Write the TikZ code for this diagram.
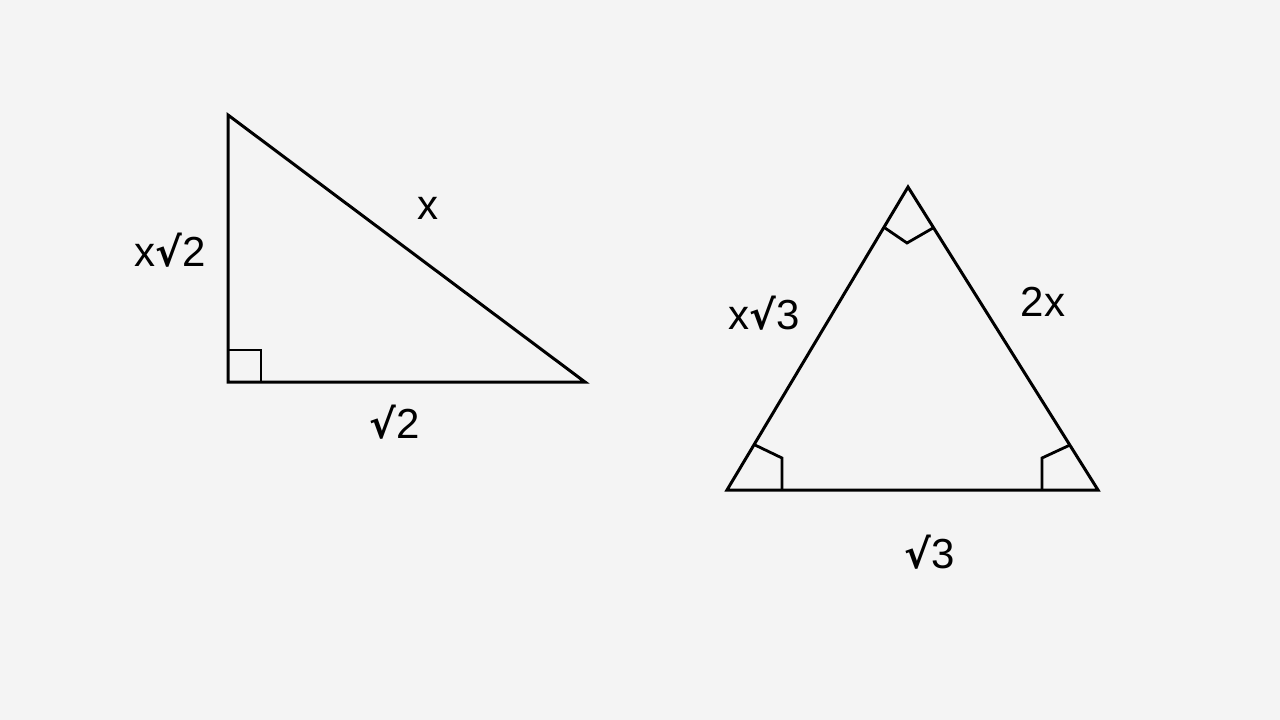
\documentclass[tikz,border=0pt]{standalone}
\usepackage{fontspec}
\setmainfont{Liberation Sans}
\newfontfamily\radfont{DejaVu Sans Bold}
\newcommand{\rad}{{\radfont\fontsize{40}{40}\selectfont √}}
\begin{document}
\begin{tikzpicture}[x=1pt,y=-1pt,
  edge/.style={line width=3pt,line join=miter,black},
  anglemark/.style={line width=2.8pt,black},
  lbl/.style={font=\fontsize{42}{42}\selectfont,inner sep=0pt,text=black}]
\fill[fill={rgb,255:red,244;green,244;blue,244}] (0,0) rectangle (1280,720);
\useasboundingbox (0,0) rectangle (1280,720);
% left triangle
\coordinate (A) at (228,115);
\coordinate (B) at (228,382);
\coordinate (C) at (585,382);
\draw[edge] (A) -- (B) -- (C) -- cycle;
\draw[anglemark] (228,350) -- (261,350) -- (261,382);
\node[lbl] (l1) at (170,250) {x\rad2};
\node[lbl] (l2) at (428,208) {x};
\node[lbl] (l3) at (395,422) {\rad2};
% right triangle
\coordinate (P) at (908,187);
\coordinate (Q) at (727,490);
\coordinate (R) at (1098,490);
\draw[edge] (P) -- (Q) -- (R) -- cycle;
\draw[anglemark] (885,228) -- (907,243) -- (933,228);
\draw[anglemark] (755,445) -- (782,458) -- (782,490);
\draw[anglemark] (1070,445) -- (1042,458) -- (1042,490);
\node[lbl] (r1) at (764,313) {x\rad3};
\node[lbl] (r2) at (1043,302) {2x};
\node[lbl] (r3) at (930,552) {\rad3};
\end{tikzpicture}
\end{document}
